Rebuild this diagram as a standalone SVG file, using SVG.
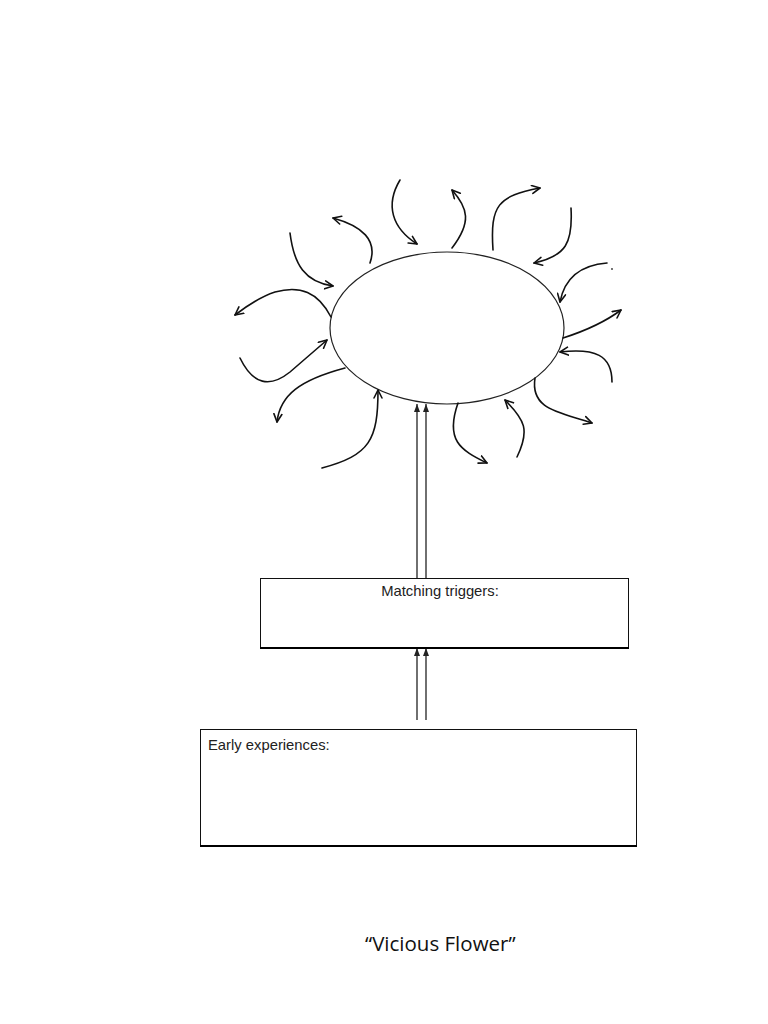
<svg xmlns="http://www.w3.org/2000/svg" width="768" height="1024" viewBox="0 0 768 1024">
<style>
.curve{fill:none;stroke:#111;stroke-width:1.6;stroke-linecap:round;marker-end:url(#open)}
.vline{fill:none;stroke:#333;stroke-width:1.4;marker-end:url(#tri)}
.box{fill:#fff;stroke:#111;stroke-width:1}
.boxb{stroke:#000;stroke-width:2}
.lbl{font-family:"Liberation Sans",Arial,sans-serif;font-size:14.8px;fill:#222}
.title{font-family:"Open Sans","Noto Sans",sans-serif;font-size:20.5px;fill:#111}
</style>
<defs>
<marker id="open" viewBox="0 0 10 10" refX="9" refY="5" markerWidth="10" markerHeight="10" markerUnits="userSpaceOnUse" orient="auto">
<path d="M1,1 L9,5 L1,9" fill="none" stroke="#111" stroke-width="1.6" stroke-linecap="round" stroke-linejoin="round"/>
</marker>
<marker id="tri" viewBox="0 0 8 6" refX="8" refY="3" markerWidth="8" markerHeight="6" markerUnits="userSpaceOnUse" orient="auto">
<path d="M0,0 L8,3 L0,6 Z" fill="#222"/>
</marker>
</defs>
<rect width="768" height="1024" fill="#fff"/>
<g id="flower">
<ellipse cx="447" cy="328" rx="117" ry="76" fill="none" stroke="#222" stroke-width="1.2"/>
</g>
<g id="connectors">
<path class="curve" d="M400,180 C385,205 392,228 417,244"/>
<path class="curve" d="M370,263 C378,240 362,226 333,218"/>
<path class="curve" d="M290,233 C294,265 305,282 333,286"/>
<path class="curve" d="M331,317 C318,292 300,285 275,292 C260,297 248,305 235,315"/>
<path class="curve" d="M452,248 C472,222 468,208 452,190"/>
<path class="curve" d="M493,250 C490,205 498,196 540,188"/>
<path class="curve" d="M571,208 C573,243 566,256 534,263"/>
<path class="curve" d="M607,263 C582,265 565,276 560,302"/>
<path class="curve" d="M563,338 C588,330 605,322 621,310"/>
<path class="curve" d="M240,358 C253,385 270,388 290,372 L327,340"/>
<path class="curve" d="M345,368 C300,380 280,395 277,422"/>
<path class="curve" d="M322,468 C370,455 378,440 378,390"/>
<path class="curve" d="M612,382 C612,355 595,348 560,352"/>
<path class="curve" d="M535,378 C530,410 560,412 592,423"/>
<path class="curve" d="M517,457 C530,430 525,420 505,400"/>
<path class="curve" d="M458,403 C445,440 460,450 487,463"/>
<path class="vline" d="M417,578 L417,404"/>
<path class="vline" d="M426,578 L426,404"/>
<path class="vline" d="M417,720 L417,648"/>
<path class="vline" d="M426,720 L426,648"/>
</g>
<circle cx="612" cy="269" r="0.9" fill="#333"/>
<g id="matching">
<rect class="box" x="260.5" y="578.5" width="368" height="69.5"/>
<line class="boxb" x1="260" y1="648" x2="629" y2="648"/>
<text class="lbl" x="440" y="596" text-anchor="middle">Matching triggers:</text>
</g>
<g id="early">
<rect class="box" x="200.5" y="729.5" width="436" height="116.5"/>
<line class="boxb" x1="200" y1="846" x2="637" y2="846"/>
<text class="lbl" x="208" y="750">Early experiences:</text>
</g>
<g id="title">
<text class="title" x="365" y="951">“Vicious Flower”</text>
</g>
</svg>
